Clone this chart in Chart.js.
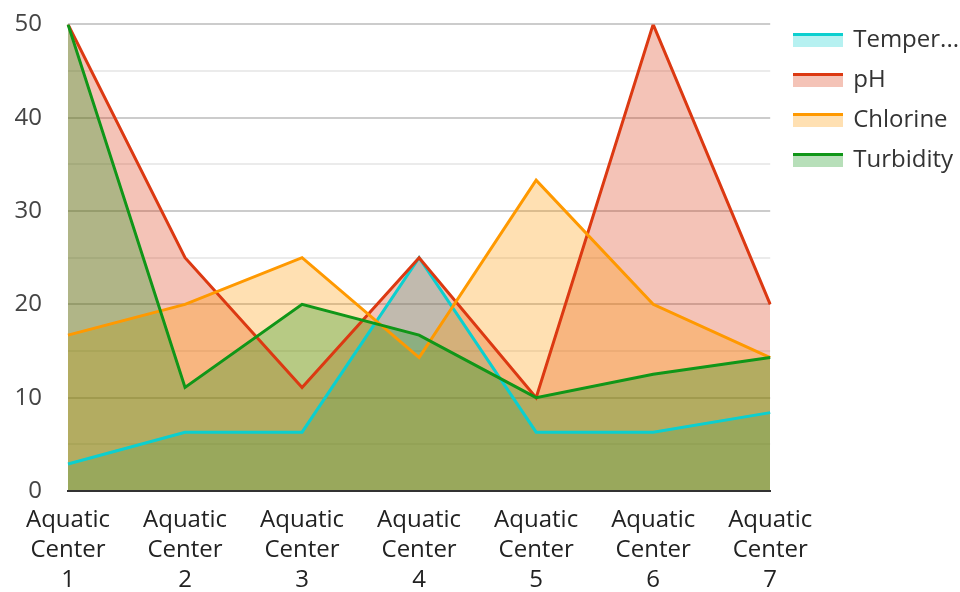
<!DOCTYPE html>
<html>
<head>
<meta charset="utf-8">
<script src="https://cdn.jsdelivr.net/npm/chart.js@4/dist/chart.umd.min.js"></script>
<style>
  html, body { margin: 0; padding: 0; background: #fff; }
</style>
</head>
<body>
<canvas id="cv-chart" width="960" height="592"></canvas>
<script>
const centers = [
    ['Aquatic', 'Center', '1'],
    ['Aquatic', 'Center', '2'],
    ['Aquatic', 'Center', '3'],
    ['Aquatic', 'Center', '4'],
    ['Aquatic', 'Center', '5'],
    ['Aquatic', 'Center', '6'],
    ['Aquatic', 'Center', '7']
];
const seriesNames = ['Temperature', 'pH', 'Chlorine', 'Turbidity'];
const temperature = [2.9, 6.3, 6.3, 25, 6.3, 6.3, 8.4];
const ph = [50, 25, 11.1, 25, 10, 50, 20];
const chlorine = [16.7, 20, 25, 14.3, 33.3, 20, 14.3];
const turbidity = [50, 11.1, 20, 16.7, 10, 12.5, 14.3];

const lineColors = ['#0ccfcf', '#dc3912', '#ff9900', '#109618'];
const fillColors = ['rgba(12,207,207,0.3)', 'rgba(220,57,18,0.3)', 'rgba(255,153,0,0.3)', 'rgba(16,150,24,0.3)'];

function swatch(line, fill) {
    const c = document.createElement('canvas');
    c.width = 50;
    c.height = 14;
    const g = c.getContext('2d');
    g.fillStyle = fill;
    g.fillRect(0, 3, 50, 11);
    g.fillStyle = line;
    g.fillRect(0, 0, 50, 3);
    return c;
}

// later series drawn on top, like the original
function makeSet(i, values) {
    return {
        label: seriesNames[i],
        data: values,
        order: 3 - i,
        borderColor: lineColors[i],
        backgroundColor: fillColors[i],
        borderWidth: 3,
        pointRadius: 0,
        tension: 0,
        fill: 'origin'
    };
}

// nudge the legend a bit closer to the right edge
const legendShift = {
    id: 'legendShift',
    afterLayout(chart) {
        const lg = chart.legend;
        if (!lg) return;
        const left = chart.chartArea.right + 9;
        lg.right += left - lg.left;
        lg.left = left;
    }
};

const chart = new Chart(document.getElementById('cv-chart'), {
    type: 'line',
    data: {
        labels: centers,
        datasets: [
            makeSet(0, temperature),
            makeSet(1, ph),
            makeSet(2, chlorine),
            makeSet(3, turbidity)
        ]
    },
    plugins: [legendShift],
    options: {
        responsive: false,
        animation: false,
        layout: { padding: { top: 12, left: 0, right: 0, bottom: 0 } },
        plugins: {
            tooltip: { enabled: false },
            filler: { drawTime: 'beforeDatasetsDraw' },
            legend: {
                position: 'right',
                align: 'start',
                labels: {
                    usePointStyle: true,
                    pointStyleWidth: 46,
                    boxHeight: 14,
                    padding: 16,
                    color: '#333',
                    font: { family: 'Open Sans', size: 24 },
                    generateLabels: function(c) {
                        return c.data.datasets.map((ds, i) => ({
                            text: ds.label.length > 9 ? ds.label.slice(0, 6) + '...' : ds.label,
                            fillStyle: fillColors[i],
                            strokeStyle: lineColors[i],
                            lineWidth: 0,
                            pointStyle: swatch(lineColors[i], fillColors[i]),
                            hidden: false,
                            datasetIndex: i,
                            fontColor: '#333'
                        }));
                    }
                }
            }
        },
        scales: {
            x: {
                offset: false,
                grid: { display: false, drawTicks: false },
                border: { display: true, color: '#333', width: 2, z: 1 },
                ticks: {
                    color: '#222',
                    maxRotation: 0,
                    autoSkip: false,
                    padding: 14,
                    font: { family: 'Open Sans', size: 24, lineHeight: 1.25 }
                },
                afterFit: s => { s.height = 101; }
            },
            y: {
                min: 0,
                max: 50,
                border: { display: false },
                grid: {
                    tickLength: 16,
                    tickColor: 'rgba(0,0,0,0)',
                    lineWidth: 2,
                    color: ctx => (ctx.tick && ctx.tick.value % 10 === 0) ? '#cccccc' : '#ebebeb'
                },
                ticks: {
                    stepSize: 5,
                    autoSkip: false,
                    padding: 10,
                    color: '#444',
                    font: { family: 'Open Sans', size: 24 },
                    callback: v => (v % 10 === 0 ? v : '')
                },
                afterFit: s => { s.width = 68; }
            }
        }
    }
});
</script>
</body>
</html>
